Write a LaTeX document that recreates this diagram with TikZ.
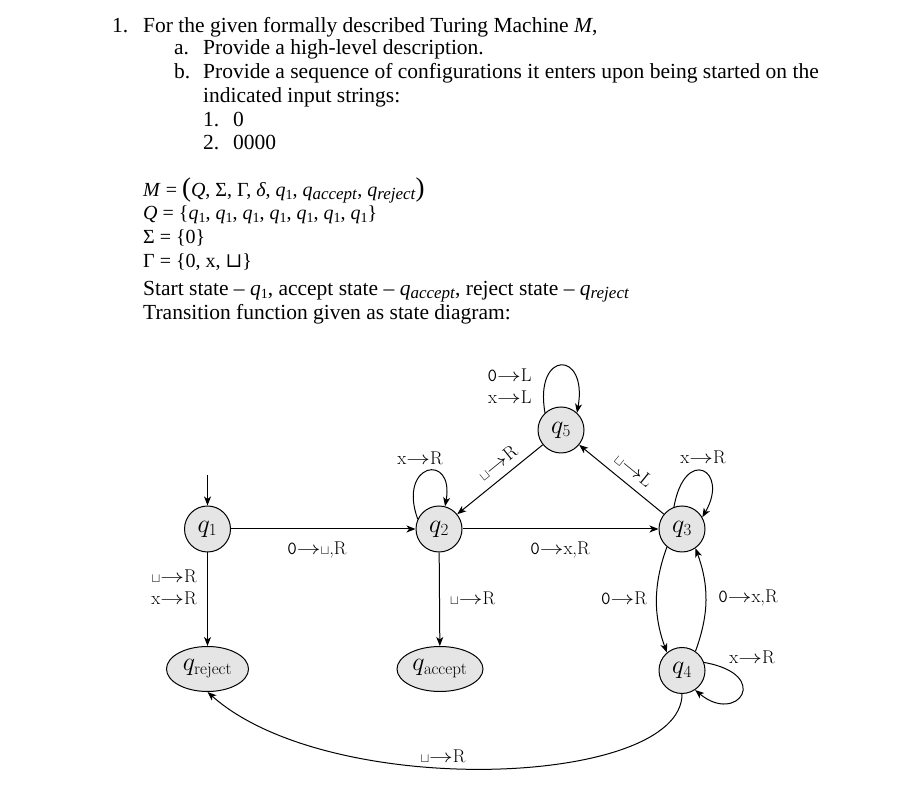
\RequirePackage{fix-cm}
\documentclass[tikz,border=0pt]{standalone}
\usepackage[no-math]{fontspec}
\usepackage{graphicx}
\newfontfamily\cam{Liberation Serif}
\newfontfamily\djv{DejaVu Serif}
\usetikzlibrary{shapes.geometric,arrows.meta}
\DeclareMathSizes{26}{26}{17}{13}
\DeclareMathSizes{18.5}{18.5}{13}{10}
\newcommand{\dgf}{\fontsize{18.5}{21.5}\selectfont}
\newcommand{\ndf}{\fontsize{26}{30}\selectfont}
\newcommand{\txf}{\cam\fontsize{21.5}{24}\selectfont}
\newcommand{\mtf}{\cam\fontsize{20}{24}\selectfont}
\newcommand{\blnk}{\mbox{$\scriptstyle\sqcup$}}
\newcommand{\zr}{\mbox{\ttfamily 0}}
\newcommand{\ar}{\mbox{\scalebox{1.28}[1]{$\rightarrow$}}}
\newcommand{\qsb}[1]{\textit{q}\raisebox{-0.3ex}{\fontsize{14}{14}\selectfont #1}}
\newcommand{\qsw}[1]{\textit{q}\raisebox{-0.3ex}{\fontsize{17}{17}\selectfont\textit{#1}}}
\newcommand{\bigpar}[1]{{\fontsize{27}{27}\selectfont #1}}
\begin{document}
\begin{tikzpicture}[x=1pt,y=1pt,
  >={Stealth[length=9pt,width=7pt,inset=2.5pt]},
  tr/.style={->, line width=1pt},
  st/.style={circle, draw, fill=gray!20, line width=1pt, minimum size=46pt, inner sep=0pt, font=\ndf},
  acc/.style={ellipse, draw, fill=gray!20, line width=1pt, minimum height=45pt, inner sep=1pt, font=\ndf},
  lbl/.style={font=\dgf, inner sep=0pt},
  txt/.style={font=\txf, anchor=base west, inner sep=0pt},
  mtxt/.style={font=\mtf, anchor=base west, inner sep=0pt}]
\path[use as bounding box, fill=white] (0,0) rectangle (923,791);

% ---- problem text ----
\node[txt] (n1) at (112,758) {1.};
\node[txt] (t1) at (143,758) {For the given formally described Turing Machine \textit{M},};
\node[txt] (na) at (174,736) {a.};
\node[txt] (ta) at (203,736) {Provide a high-level description.};
\node[txt] (nb) at (174,712) {b.};
\node[txt] (tb) at (203,712) {Provide a sequence of configurations it enters upon being started on the};
\node[txt] (tb2) at (203,688) {indicated input strings:};
\node[txt] (n11) at (203,664) {1.};
\node[txt] (t11) at (233,664) {0};
\node[txt] (n12) at (203,641) {2.};
\node[txt] (t12) at (233,641) {0000};

\node[mtxt] (m1) at (143,594) {\textit{M} = \bigpar{(}\textit{Q}, Σ, Γ, \textit{δ}, \qsb{1}, \qsw{accept}, \qsw{reject}\bigpar{)}};
\node[mtxt] (m2) at (143,571) {\textit{Q} = \{\qsb{1}, \qsb{1}, \qsb{1}, \qsb{1}, \qsb{1}, \qsb{1}, \qsb{1}\}};
\node[mtxt] (m3) at (143,547) {Σ = \{0\}};
\node[mtxt] (m4) at (143,523) {Γ = \{0, x, {\djv ⊔}\}};
\node[txt] (m5) at (143,495) {Start state – \qsb{1}, accept state – \qsw{accept}, reject state – \qsw{reject}};
\node[txt] (m6) at (143,471) {Transition function given as state diagram:};

% ---- state diagram ----
\node[st] (q1) at (207.5,262) {$q_1$};
\node[acc, minimum width=82pt] (qr) at (207.5,122) {$q_{\mathrm{reject}}$};
\node[st] (q2) at (439,262) {$q_2$};
\node[acc, minimum width=86pt] (qa) at (440,122) {$q_{\mathrm{accept}}$};
\node[st] (q5) at (561,361) {$q_5$};
\node[st] (q3) at (682,262) {$q_3$};
\node[st] (q4) at (682,120.5) {$q_4$};
\coordinate (init) at (207.5,316);

\draw[tr] (init) -- (q1);
\draw[tr] (q1) -- (q2);
\draw[tr] (q1) -- (qr);
\draw[tr] (q2) -- (qa);
\draw[tr] (q2) -- (q3);
\draw[tr] (q5) -- (q2);
\draw[tr] (q3) -- (q5);
\draw[tr] (q2.155) .. controls +(110:60) and +(80:55) .. (q2.75);
\draw[tr] (q5.133) .. controls +(100:64) and +(80:64) .. (q5.47);
\draw[tr] (q3.110) .. controls +(80:62) and +(60:55) .. (q3.30);
\draw[tr] (q4.20) .. controls +(-10:70) and +(-40:55) .. (q4.-56);
\draw[tr] (q3.230) .. controls +(-110:40) and +(110:40) .. (q4.130);
\draw[tr] (q4.55) .. controls +(70:40) and +(-70:40) .. (q3.-55);
\draw[tr] (q4.south) .. controls (682,4) and (330,-10) .. (qr.south);

\node[lbl] (l12) at (317,241) {\zr\ar\blnk,R};
\node[lbl, align=right] (l1r) at (174,203.5) {\blnk\ar R\\x\ar R};
\node[lbl, anchor=west] (l2a) at (450,193) {\blnk\ar R};
\node[lbl] (l2l) at (420,333) {x\ar R};
\node[lbl] (l23) at (560,241) {\zr\ar x,R};
\node[lbl, rotate=39] (l52) at (497.5,328) {\blnk\ar R};
\node[lbl, rotate=-39] (l35) at (634,321) {\blnk\ar L};
\node[lbl, align=right] (l5l) at (509.5,405) {\zr\ar L\\x\ar L};
\node[lbl] (l3l) at (703,334) {x\ar R};
\node[lbl] (l34) at (624,193) {\zr\ar R};
\node[lbl] (l43) at (748,193) {\zr\ar x,R};
\node[lbl] (l4l) at (752,134) {x\ar R};
\node[lbl] (l4r) at (443,35) {\blnk\ar R};
\end{tikzpicture}
\end{document}
